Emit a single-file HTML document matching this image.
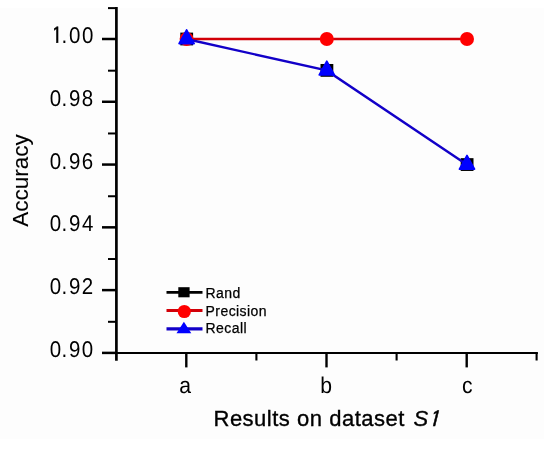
<!DOCTYPE html>
<html><head><meta charset="utf-8"><style>
html,body{margin:0;padding:0;background:#fff;}
svg{display:block;}
.tl{font-family:"Liberation Sans",Arial,sans-serif;font-size:22.75px;fill:#000;text-rendering:geometricPrecision;}
.tx{font-family:"Liberation Sans",Arial,sans-serif;font-size:23px;fill:#000;stroke:#000;stroke-width:0.2px;}
.one{font-family:"IPAGothic",sans-serif;font-size:23px;fill:#000;}
.one1{font-family:"IPAGothic",sans-serif;font-size:23px;stroke:#000;stroke-width:0.45px;}
.tt{font-family:"Liberation Sans",Arial,sans-serif;font-size:22px;letter-spacing:0.5px;fill:#000;stroke:#000;stroke-width:0.35px;}
.ac{font-family:"Liberation Sans",Arial,sans-serif;font-size:22.5px;fill:#000;stroke:#000;stroke-width:0.1px;}
.lg{font-family:"Liberation Sans",Arial,sans-serif;font-size:14px;letter-spacing:0.42px;fill:#000;stroke:#000;stroke-width:0.25px;}
</style></head><body>
<svg width="550" height="449" viewBox="0 0 550 449">
<rect width="550" height="449" fill="#fff"/>
<rect x="0" y="8" width="544" height="431" fill="#fdfdfd"/>
<line x1="116.4" y1="7" x2="116.4" y2="360.7" stroke="#000" stroke-width="2.7"/>
<line x1="115.10000000000001" y1="352.9" x2="537.9" y2="352.9" stroke="#000" stroke-width="2.0"/>
<line x1="102" y1="352.90" x2="116.4" y2="352.90" stroke="#000" stroke-width="2.5"/>
<text transform="scale(0.9,1)" x="55.18 68.21 76.64 90.96" y="357.20" class="tl">0.90</text>
<line x1="102" y1="290.12" x2="116.4" y2="290.12" stroke="#000" stroke-width="2.5"/>
<text transform="scale(0.9,1)" x="55.18 68.21 76.64 90.96" y="294.30" class="tl">0.92</text>
<line x1="102" y1="227.34" x2="116.4" y2="227.34" stroke="#000" stroke-width="2.5"/>
<text transform="scale(0.9,1)" x="55.18 68.21 76.64 91.08" y="231.40" class="tl">0.94</text>
<line x1="102" y1="164.56" x2="116.4" y2="164.56" stroke="#000" stroke-width="2.5"/>
<text transform="scale(0.9,1)" x="55.18 68.21 76.64 90.83" y="168.50" class="tl">0.96</text>
<line x1="102" y1="101.78" x2="116.4" y2="101.78" stroke="#000" stroke-width="2.5"/>
<text transform="scale(0.9,1)" x="55.18 68.21 76.64 90.96" y="105.60" class="tl">0.98</text>
<line x1="102" y1="39.00" x2="116.4" y2="39.00" stroke="#000" stroke-width="2.5"/>
<text transform="scale(0.9,1)" x="57.44 68.43 76.68 91.07" y="42.70" class="tl"><tspan class="one1" dy="1.5">1</tspan><tspan dy="-1.5">.00</tspan></text>
<line x1="108" y1="321.81" x2="116.4" y2="321.81" stroke="#000" stroke-width="2.0"/>
<line x1="108" y1="259.03" x2="116.4" y2="259.03" stroke="#000" stroke-width="2.0"/>
<line x1="108" y1="196.25" x2="116.4" y2="196.25" stroke="#000" stroke-width="2.0"/>
<line x1="108" y1="133.47" x2="116.4" y2="133.47" stroke="#000" stroke-width="2.0"/>
<line x1="108" y1="70.69" x2="116.4" y2="70.69" stroke="#000" stroke-width="2.0"/>
<line x1="108" y1="8.11" x2="116.4" y2="8.11" stroke="#000" stroke-width="2.0"/>
<line x1="186.3" y1="352.9" x2="186.3" y2="367.4" stroke="#000" stroke-width="2.4"/>
<text transform="translate(179.36,393) scale(0.93,1)" class="tl">a</text>
<line x1="326.5" y1="352.9" x2="326.5" y2="367.4" stroke="#000" stroke-width="2.4"/>
<text transform="translate(320.24,393) scale(0.93,1)" class="tl">b</text>
<line x1="466.7" y1="352.9" x2="466.7" y2="367.4" stroke="#000" stroke-width="2.4"/>
<text transform="translate(461.94,393) scale(0.93,1)" class="tl">c</text>
<line x1="256.4" y1="352.9" x2="256.4" y2="360.5" stroke="#000" stroke-width="2.1"/>
<line x1="396.6" y1="352.9" x2="396.6" y2="360.5" stroke="#000" stroke-width="2.1"/>
<line x1="536.6" y1="352.9" x2="536.6" y2="360.5" stroke="#000" stroke-width="2.1"/>
<rect x="180.30" y="32.60" width="12.8" height="12.8" fill="#000"/>
<rect x="320.50" y="63.99" width="12.8" height="12.8" fill="#000"/>
<rect x="460.70" y="158.16" width="12.8" height="12.8" fill="#000"/>
<polyline points="186.3,39.00 326.5,39.00 466.7,39.00" fill="none" stroke="#d20008" stroke-width="2.3"/>
<circle cx="186.60" cy="39.00" r="7.0" fill="#ff0000"/>
<circle cx="326.80" cy="39.00" r="7.0" fill="#ff0000"/>
<circle cx="467.00" cy="39.00" r="7.0" fill="#ff0000"/>
<polyline points="186.3,39.00 326.5,70.39 466.7,164.56" fill="none" stroke="#1200c8" stroke-width="2.4"/>
<polygon points="186.60,29.80 194.20,43.60 179.00,43.60" fill="#0000ff" stroke="#0000ff" stroke-width="1.6" stroke-linejoin="round"/>
<polygon points="326.80,61.19 334.40,74.99 319.20,74.99" fill="#0000ff" stroke="#0000ff" stroke-width="1.6" stroke-linejoin="round"/>
<polygon points="467.00,155.36 474.60,169.16 459.40,169.16" fill="#0000ff" stroke="#0000ff" stroke-width="1.6" stroke-linejoin="round"/>
<line x1="166.5" y1="292.4" x2="202.5" y2="292.4" stroke="#000" stroke-width="2.8"/>
<line x1="166.5" y1="310.5" x2="202.5" y2="310.5" stroke="#d20008" stroke-width="2.9"/>
<line x1="166.5" y1="328.8" x2="202.5" y2="328.8" stroke="#1200c8" stroke-width="3.2"/>
<rect x="178.3" y="287.2" width="11.3" height="10.1" fill="#000"/>
<circle cx="184.30" cy="311.50" r="6.6" fill="#ff0000"/>
<polygon points="183.90,321.80 191.30,333.30 176.50,333.30" fill="#0000ff"/>
<text x="205.6" y="297.5" class="lg">Rand</text>
<text x="205.6" y="315.6" class="lg">Precision</text>
<text x="205.6" y="333.1" class="lg">Recall</text>
<text y="425.8" class="tt"><tspan x="213.5">Results </tspan><tspan x="296.9">on </tspan><tspan x="329.2">dataset </tspan><tspan x="413.5" font-style="italic">S</tspan><tspan x="428" dy="1.2" font-style="italic" style="font-family:IPAGothic,sans-serif;stroke-width:0.5px;letter-spacing:0">1</tspan></text>
<text transform="translate(27.7,180.5) rotate(-90)" class="ac" text-anchor="middle">Accuracy</text>
</svg>
</body></html>
